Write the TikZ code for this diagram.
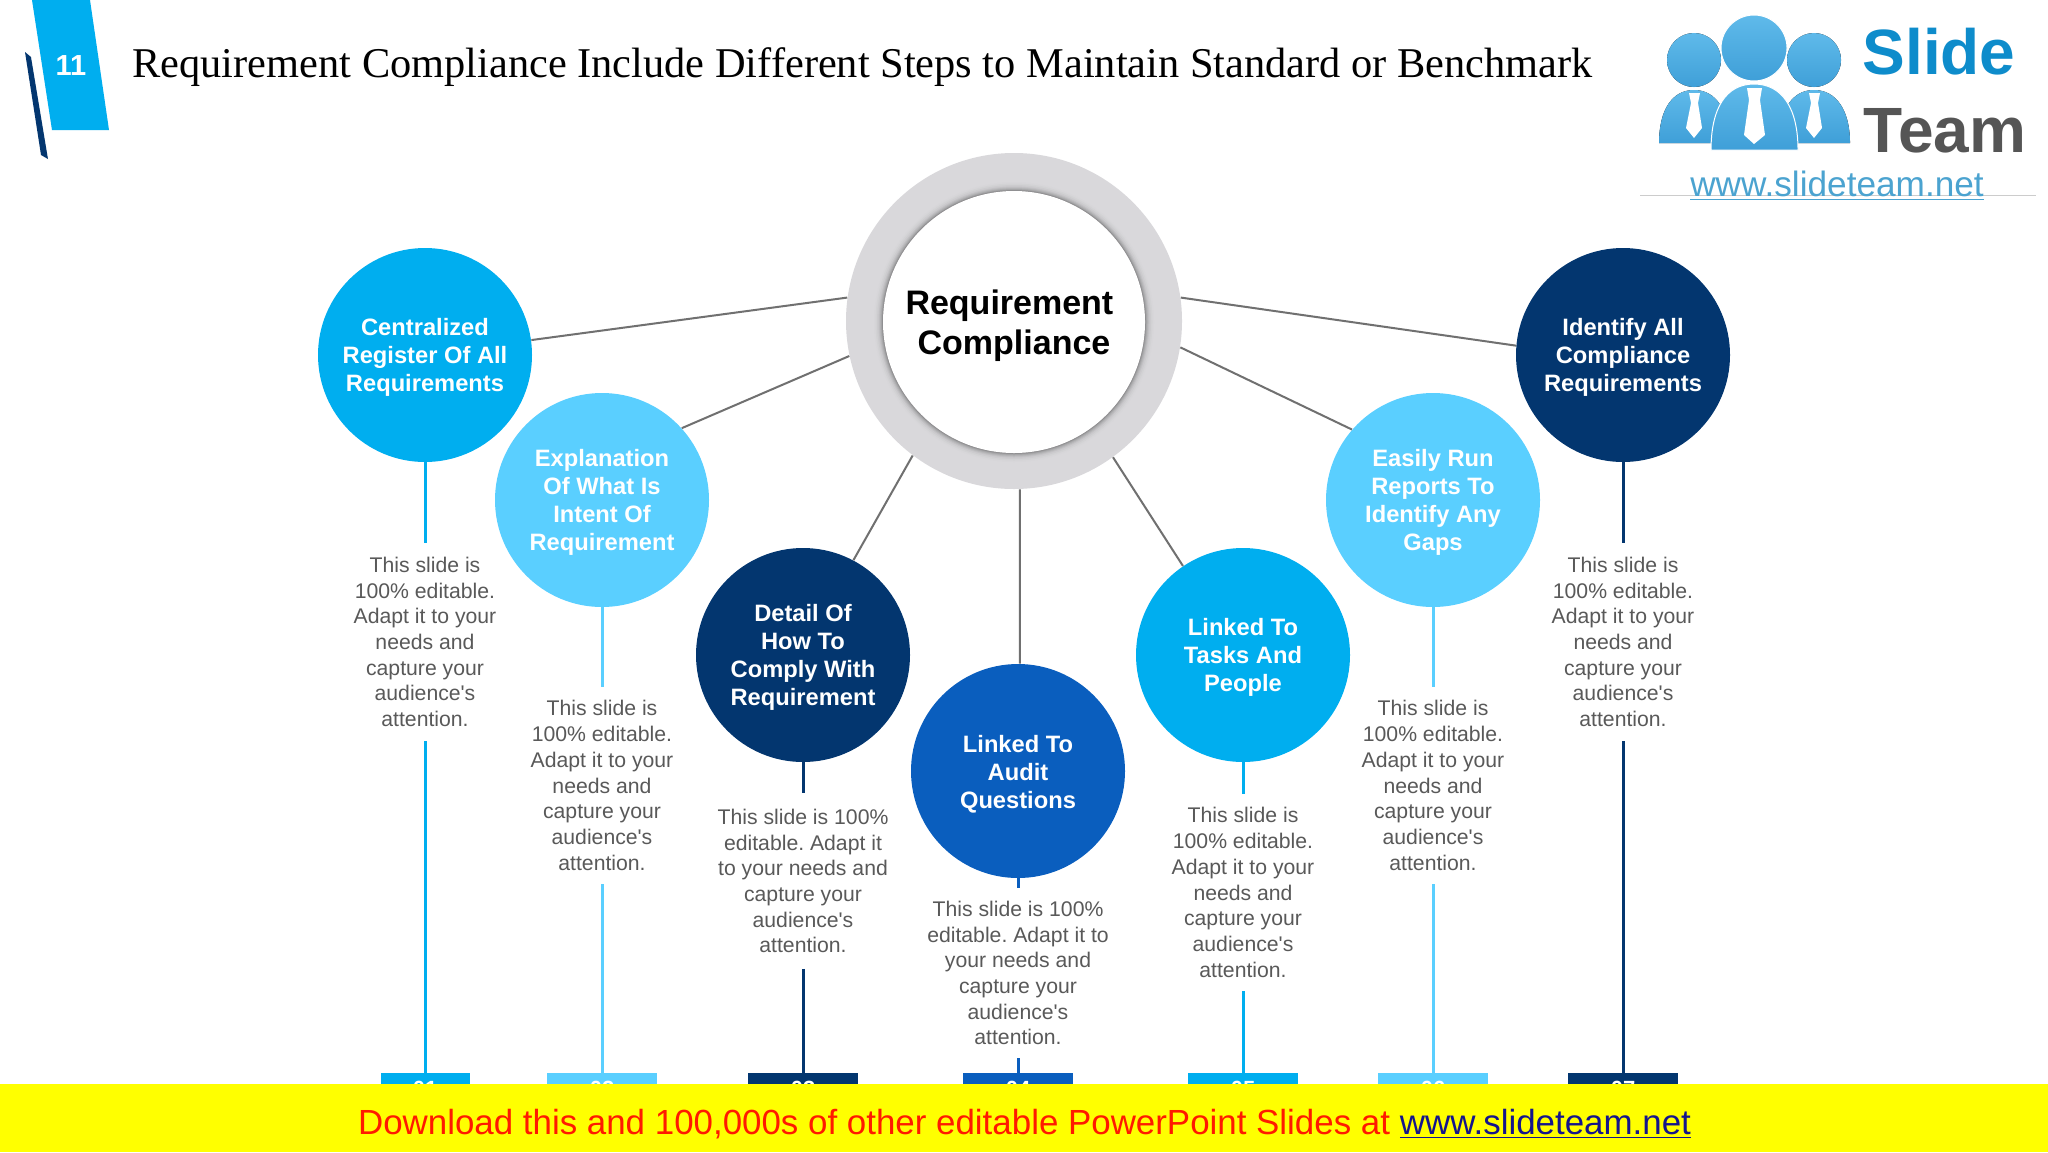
\documentclass[tikz,border=0pt]{standalone}
\usepackage{fontspec}
\setmainfont{Liberation Sans}
\newfontfamily\serifttl{Liberation Serif}
\definecolor{cyanA}{HTML}{00AEEF}
\definecolor{skyA}{HTML}{5ACFFF}
\definecolor{navyA}{HTML}{03366F}
\definecolor{blueA}{HTML}{0A5EBE}
\definecolor{ringA}{HTML}{D9D8DB}
\definecolor{linkA}{HTML}{707070}
\definecolor{bodyA}{HTML}{595959}
\definecolor{logoA}{HTML}{4FAEE3}
\definecolor{logoB}{HTML}{5FBAEA}
\definecolor{logoC}{HTML}{3F9FD8}
\definecolor{logoS}{HTML}{0E8CCB}
\definecolor{logoT}{HTML}{555555}
\definecolor{logoU}{HTML}{4BA3D0}
\definecolor{bandY}{HTML}{FFFF00}
\definecolor{bandR}{HTML}{FF1A00}
\definecolor{bandB}{HTML}{14148C}
\newcommand{\aud}{audience\textquotesingle s}
\newcommand{\tp}{\rule{0pt}{11.4pt}}
\tikzset{
 x=0.5pt,y=-0.5pt,
 bub/.style={circle,minimum size=107pt,inner sep=0pt,fill=#1,text=white,align=center,
   font=\fontsize{11.85}{14}\selectfont\bfseries},
 bodytext/.style={inner sep=0pt,text=bodyA,align=center,minimum height=#1*0.5pt,
   font=\fontsize{10.6}{12.85}\selectfont\frenchspacing},
 tab/.style={fill=#1,minimum height=15pt,inner sep=0pt,anchor=north,text=white,text depth=0pt,
   font=\fontsize{11}{12}\selectfont\bfseries},
 link/.style={draw=linkA,line width=1pt},
 stem/.style={draw=#1,line width=1.5pt},
 logofill/.style={top color=logoB,bottom color=logoC},
}
\begin{document}
\begin{tikzpicture}
\fill[white] (0,0) rectangle (2048,1152);
\useasboundingbox (0,0) rectangle (2048,1152);
% corner marks
\fill[cyanA] (32,0) -- (90,0) -- (109,130) -- (52,130) -- cycle;
\fill[navyA] (25,52) -- (31,57) -- (48,159) -- (41,155) -- cycle;
\node[text=white,font=\fontsize{14.5}{16}\selectfont\bfseries] (num) at (71,66) {11};
\node[anchor=west,inner sep=0pt,font=\serifttl\fontsize{21.2}{24}\selectfont] (ttl) at (132,67)
  {Requirement Compliance Include Different Steps to Maintain Standard or Benchmark};
% logo
\fill[logofill] (1659,143) .. controls (1659,110) and (1672,90) .. (1694,90) .. controls (1716,90) and (1729,110) .. (1729,143) -- cycle;
\fill[logofill] (1850,143) .. controls (1850,110) and (1836,90) .. (1814,90) .. controls (1792,90) and (1779,110) .. (1779,143) -- cycle;
\draw[logofill,draw=white,line width=.5pt] (1711,150) .. controls (1711,108) and (1726,84) .. (1754,84) .. controls (1782,84) and (1798,108) .. (1798,150) -- cycle;
\fill[logofill] (1694,60) circle[radius=27];
\fill[logofill] (1814,60) circle[radius=27];
\draw[logofill,draw=white,line width=.5pt] (1754,48) circle[radius=33];
\fill[white] (1747,88) -- (1762,88) -- (1760,100) -- (1765,135) -- (1754,144) -- (1744,135) -- (1749,100) -- cycle;
\fill[white] (1689,93) -- (1700,93) -- (1698,103) -- (1702,128) -- (1694,138) -- (1686,128) -- (1691,103) -- cycle;
\fill[white] (1809,93) -- (1820,93) -- (1818,103) -- (1822,128) -- (1814,138) -- (1806,128) -- (1811,103) -- cycle;
\node[inner sep=0pt,text=logoS,font=\fontsize{32}{36}\selectfont\bfseries] (lgs) at (1939,52) {Slide};
\node[inner sep=0pt,text=logoT,font=\fontsize{32}{36}\selectfont\bfseries] (lgt) at (1945,131) {Team};
\draw[line width=.5pt,draw=black!20] (1640,195) -- (2036,195);
\node[inner sep=0pt,text=logoU,font=\fontsize{17.6}{20}\selectfont] (lgu) at (1837,186) {\underline{www.slideteam.net}};
% hub
\node[circle,minimum size=168pt,inner sep=0pt,fill=ringA] (hub) at (1014,321) {};
\foreach \r/\c in {140/1,138.5/3,137/6,135.5/10,134.5/15,133.5/21,132.5/28,131.7/36}
  \fill[black!\c!ringA] (1014,322) circle[radius=\r];
\node[circle,minimum size=131pt,inner sep=0pt,fill=white,align=center,
  font=\fontsize{17}{20}\selectfont\bfseries] (core) at (1014,322) {\rule{0pt}{16.4pt}Requirement\hspace*{4.6pt}\\Compliance};
% circles
\node[bub=cyanA] (c1) at (425,355) {\tp Centralized\\Register Of All\\Requirements};
\node[bub=skyA] (c2) at (602,500) {\tp Explanation\\Of What Is\\Intent Of\\Requirement};
\node[bub=navyA] (c3) at (803,655) {\tp Detail Of\\How To\\Comply With\\Requirement};
\node[bub=blueA] (c4) at (1018,771) {\tp Linked To\\Audit\\Questions};
\node[bub=cyanA] (c5) at (1243,655) {\tp Linked To\\Tasks And\\People};
\node[bub=skyA] (c6) at (1433,500) {\tp Easily Run\\Reports To\\Identify Any\\Gaps};
\node[bub=navyA] (c7) at (1623,355) {\tp Identify All\\Compliance\\Requirements};
% hub links
\draw[link] (c1.8) -- (hub.172);
\draw[link] (c2.42) -- (hub.192);
\draw[link] (c3.62.5) -- (hub.233.4);
\draw[link] (c4.89) -- (hub.272);
\draw[link] (c5.124) -- (hub.306);
\draw[link] (c6.139.6) -- (hub.351);
\draw[link] (c7.175) -- (hub.8);
% body text
\node[bodytext=198] (t1) at (425,642) {This slide is\\100\% editable.\\Adapt it to your\\needs and\\capture your\\\aud\\attention.};
\node[bodytext=197] (t2) at (602,785.5) {This slide is\\100\% editable.\\Adapt it to your\\needs and\\capture your\\\aud\\attention.};
\node[bodytext=175] (t3) at (803,881) {This slide is 100\%\\editable. Adapt it\\to your needs and\\capture your\\\aud\\attention.};
\node[bodytext=170] (t4) at (1018,973) {This slide is 100\%\\editable. Adapt it to\\your needs and\\capture your\\\aud\\attention.};
\node[bodytext=197] (t5) at (1243,892.5) {This slide is\\100\% editable.\\Adapt it to your\\needs and\\capture your\\\aud\\attention.};
\node[bodytext=197] (t6) at (1433,785.5) {This slide is\\100\% editable.\\Adapt it to your\\needs and\\capture your\\\aud\\attention.};
\node[bodytext=198] (t7) at (1623,642) {This slide is\\100\% editable.\\Adapt it to your\\needs and\\capture your\\\aud\\attention.};
% tabs
\node[tab=cyanA,minimum width=44.5pt] (b1) at (425,1073) {01};
\node[tab=skyA,minimum width=55pt] (b2) at (602,1073) {02};
\node[tab=navyA,minimum width=55pt] (b3) at (803,1073) {03};
\node[tab=blueA,minimum width=55pt] (b4) at (1018,1073) {04};
\node[tab=cyanA,minimum width=55pt] (b5) at (1243,1073) {05};
\node[tab=skyA,minimum width=55pt] (b6) at (1433,1073) {06};
\node[tab=navyA,minimum width=55pt] (b7) at (1623,1073) {07};
% stems
\draw[stem=cyanA] (c1) -- (t1); \draw[stem=cyanA] (t1) -- (b1);
\draw[stem=skyA] (c2) -- (t2); \draw[stem=skyA] (t2) -- (b2);
\draw[stem=navyA] (c3) -- (t3); \draw[stem=navyA] (t3) -- (b3);
\draw[stem=blueA] (c4) -- (t4); \draw[stem=blueA] (t4) -- (b4);
\draw[stem=cyanA] (c5) -- (t5); \draw[stem=cyanA] (t5) -- (b5);
\draw[stem=skyA] (c6) -- (t6); \draw[stem=skyA] (t6) -- (b6);
\draw[stem=navyA] (c7) -- (t7); \draw[stem=navyA] (t7) -- (b7);
% banner
\fill[bandY] (0,1084) rectangle (2048,1152);
\node[inner sep=0pt,font=\fontsize{17.45}{20}\selectfont] (ad) at (1024.5,1124)
 {\textcolor{bandR}{Download this and 100,000s of other editable PowerPoint Slides at }\textcolor{bandB}{\underline{www.slideteam.net}}};
\end{tikzpicture}
\end{document}
